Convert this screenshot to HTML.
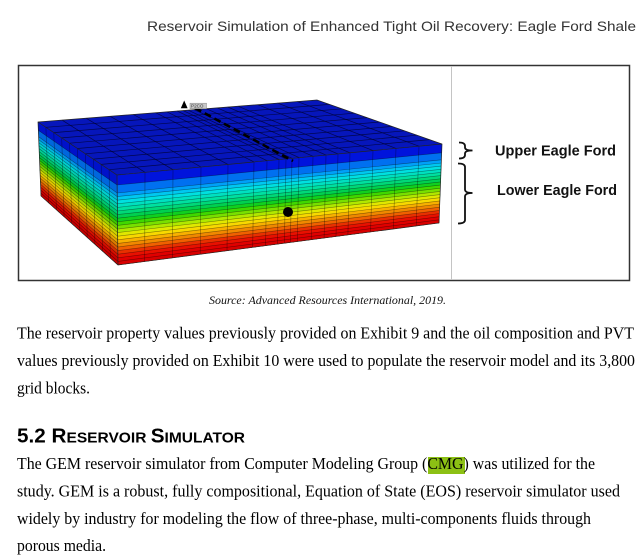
<!DOCTYPE html>
<html><head><meta charset="utf-8"><style>
html,body{margin:0;padding:0;background:#fff;width:644px;height:559px;overflow:hidden}
svg{display:block}
.tm{font-family:"Liberation Serif",serif;font-size:16.5px;fill:#000}
</style></head><body>
<svg width="644" height="559" viewBox="0 0 644 559" xmlns="http://www.w3.org/2000/svg">
<rect width="644" height="559" fill="#fff"/>
<text x="147" y="31" font-family="Liberation Sans, sans-serif" font-size="14" fill="#333" textLength="489" lengthAdjust="spacingAndGlyphs">Reservoir Simulation of Enhanced Tight Oil Recovery: Eagle Ford Shale</text>

<rect x="18.5" y="65.5" width="611" height="215" fill="#fff" stroke="#333" stroke-width="1.5"/>
<line x1="451.5" y1="66" x2="451.5" y2="280" stroke="#c4c4c4" stroke-width="1"/>

<!-- top face -->
<polygon points="38,122 317,100 442,144 117,175" fill="#0616bb"/>
<g stroke="#00002a" stroke-width="0.7" stroke-opacity="0.75" fill="none">
<path d="M45.9,127.3L329.5,104.4M53.8,132.6L342,108.8M61.7,137.9L354.5,113.2M69.6,143.2L367,117.6M77.5,148.5L379.5,122M85.4,153.8L392,126.4M93.3,159.1L404.5,130.8M101.2,164.4L417,135.2M109.1,169.7L429.5,139.6"/>
<path d="M145,172.3L62,120.1M173,169.7L86.1,118.2M201,167L110.1,116.3M228,164.4L133.3,114.5M254,161.9L155.6,112.7M267,160.7L166.8,111.8M279,159.5L177.1,111M286,158.9L183.1,110.6M292,158.3L188.2,110.2M299,157.6L194.2,109.7M313,156.3L206.3,108.7M326,155.1L217.4,107.9M338,153.9L227.7,107M350,152.8L238,106.2M373,150.6L257.8,104.7M396,148.4L277.5,103.1M419,146.2L297.3,101.6"/>
</g>

<!-- front face layers -->
<g>
<polygon points="117,175 442,144 439,223 118,265" fill="#0014dc"/>
<polygon points="117.1,185 441.7,152.8 439,223 118,265" fill="#0070f0"/>
<polygon points="117.2,193 441.4,159.8 439,223 118,265" fill="#00a0f8"/>
<polygon points="117.2,196.6 441.3,163 439,223 118,265" fill="#00c8f0"/>
<polygon points="117.3,200.2 441.2,166.1 439,223 118,265" fill="#00e0e0"/>
<polygon points="117.3,203.8 441,169.3 439,223 118,265" fill="#00e0c0"/>
<polygon points="117.4,207.4 440.9,172.4 439,223 118,265" fill="#00e0a0"/>
<polygon points="117.4,211 440.8,175.6 439,223 118,265" fill="#00d878"/>
<polygon points="117.4,214.6 440.7,178.8 439,223 118,265" fill="#00d050"/>
<polygon points="117.5,218.2 440.6,181.9 439,223 118,265" fill="#10d020"/>
<polygon points="117.5,221.8 440.4,185.1 439,223 118,265" fill="#40d800"/>
<polygon points="117.6,225.4 440.3,188.2 439,223 118,265" fill="#78e000"/>
<polygon points="117.6,229 440.2,191.4 439,223 118,265" fill="#b0e800"/>
<polygon points="117.6,232.6 440.1,194.6 439,223 118,265" fill="#e0e800"/>
<polygon points="117.7,236.2 440,197.7 439,223 118,265" fill="#f8d800"/>
<polygon points="117.7,239.8 439.8,200.9 439,223 118,265" fill="#f8b000"/>
<polygon points="117.8,243.4 439.7,204 439,223 118,265" fill="#f08800"/>
<polygon points="117.8,247 439.6,207.2 439,223 118,265" fill="#f06000"/>
<polygon points="117.8,250.6 439.5,210.4 439,223 118,265" fill="#e83000"/>
<polygon points="117.9,254.2 439.4,213.5 439,223 118,265" fill="#e81000"/>
<polygon points="117.9,257.8 439.2,216.7 439,223 118,265" fill="#e00000"/>
<polygon points="118,261.4 439.1,219.8 439,223 118,265" fill="#d80000"/>
</g>

<!-- left face layers -->
<g>
<polygon points="38,122 117,175 118,265 41,196" fill="#0014dc"/>
<polygon points="38.3,130.2 117.1,185 118,265 41,196" fill="#0070f0"/>
<polygon points="38.6,136.8 117.2,193 118,265 41,196" fill="#00a0f8"/>
<polygon points="38.7,139.8 117.2,196.6 118,265 41,196" fill="#00c8f0"/>
<polygon points="38.8,142.7 117.3,200.2 118,265 41,196" fill="#00e0e0"/>
<polygon points="39,145.7 117.3,203.8 118,265 41,196" fill="#00e0c0"/>
<polygon points="39.1,148.6 117.4,207.4 118,265 41,196" fill="#00e0a0"/>
<polygon points="39.2,151.6 117.4,211 118,265 41,196" fill="#00d878"/>
<polygon points="39.3,154.6 117.4,214.6 118,265 41,196" fill="#00d050"/>
<polygon points="39.4,157.5 117.5,218.2 118,265 41,196" fill="#10d020"/>
<polygon points="39.6,160.5 117.5,221.8 118,265 41,196" fill="#40d800"/>
<polygon points="39.7,163.4 117.6,225.4 118,265 41,196" fill="#78e000"/>
<polygon points="39.8,166.4 117.6,229 118,265 41,196" fill="#b0e800"/>
<polygon points="39.9,169.4 117.6,232.6 118,265 41,196" fill="#e0e800"/>
<polygon points="40,172.3 117.7,236.2 118,265 41,196" fill="#f8d800"/>
<polygon points="40.2,175.3 117.7,239.8 118,265 41,196" fill="#f8b000"/>
<polygon points="40.3,178.2 117.8,243.4 118,265 41,196" fill="#f08800"/>
<polygon points="40.4,181.2 117.8,247 118,265 41,196" fill="#f06000"/>
<polygon points="40.5,184.2 117.8,250.6 118,265 41,196" fill="#e83000"/>
<polygon points="40.6,187.1 117.9,254.2 118,265 41,196" fill="#e81000"/>
<polygon points="40.8,190.1 117.9,257.8 118,265 41,196" fill="#e00000"/>
<polygon points="40.9,193 118,261.4 118,265 41,196" fill="#d80000"/>
<polygon points="38,122 117,175 118,265 41,196" fill="#000" fill-opacity="0.08"/>
</g>

<!-- layer lines -->
<g stroke="#000" stroke-width="0.6" stroke-opacity="0.45" fill="none">
<path d="M38.3,130.2L117.1,185L441.7,152.8M38.6,136.8L117.2,193L441.4,159.8M38.7,139.8L117.2,196.6L441.3,163M38.8,142.7L117.3,200.2L441.2,166.1M39,145.7L117.3,203.8L441,169.3M39.1,148.6L117.4,207.4L440.9,172.4M39.2,151.6L117.4,211L440.8,175.6M39.3,154.6L117.4,214.6L440.7,178.8M39.4,157.5L117.5,218.2L440.6,181.9M39.6,160.5L117.5,221.8L440.4,185.1M39.7,163.4L117.6,225.4L440.3,188.2M39.8,166.4L117.6,229L440.2,191.4M39.9,169.4L117.6,232.6L440.1,194.6M40,172.3L117.7,236.2L440,197.7M40.2,175.3L117.7,239.8L439.8,200.9M40.3,178.2L117.8,243.4L439.7,204M40.4,181.2L117.8,247L439.6,207.2M40.5,184.2L117.8,250.6L439.5,210.4M40.6,187.1L117.9,254.2L439.4,213.5M40.8,190.1L117.9,257.8L439.2,216.7M40.9,193L118,261.4L439.1,219.8"/>
<path d="M145,172.3L144.7,261.5M173,169.7L172.5,257.8M201,167L200.2,254.1M228,164.4L227,250.6M254,161.9L252.7,247.2M267,160.7L265.6,245.5M279,159.5L277.5,243.9M286,158.9L284.4,243M292,158.3L290.4,242.2M299,157.6L297.3,241.3M313,156.3L311.2,239.5M326,155.1L324.1,237.8M338,153.9L336,236.2M350,152.8L347.9,234.6M373,150.6L370.6,231.6M396,148.4L393.4,228.6M419,146.2L416.2,225.6"/>
<path d="M45.9,127.3L48.7,202.9M53.8,132.6L56.4,209.8M61.7,137.9L64.1,216.7M69.6,143.2L71.8,223.6M77.5,148.5L79.5,230.5M85.4,153.8L87.2,237.4M93.3,159.1L94.9,244.3M101.2,164.4L102.6,251.2M109.1,169.7L110.3,258.1"/>
</g>
<g stroke="#222" stroke-width="0.7" fill="none">
<polygon points="38,122 317,100 442,144 439,223 118,265 41,196"/>
<path d="M38,122L117,175L442,144M117,175L118,265"/>
</g>

<!-- well -->
<line x1="195" y1="108" x2="293" y2="161" stroke="#000" stroke-width="2.6" stroke-dasharray="7 4"/>
<polygon points="184.2,100.5 180.8,108.3 187.6,108.3" fill="#000"/>
<rect x="190" y="103.2" width="16.5" height="5.5" fill="#c8c8c8" stroke="#888" stroke-width="0.5"/>
<text x="191" y="107.6" font-family="Liberation Sans, sans-serif" font-size="4.6" fill="#333">P2CO</text>
<circle cx="288" cy="212" r="5" fill="#000"/>

<!-- brackets -->
<g stroke="#111" stroke-width="1.8" fill="none">
<path d="M459,142.5 Q465,142.5 465,146 L465,147.5 Q465,150.5 472.5,150.5 Q465,150.5 465,153.5 L465,155 Q465,158.5 459,158.5"/>
<path d="M458,163.5 Q465,163.5 465,167 L465,189.5 Q465,193 472.5,193 Q465,193 465,196.5 L465,220 Q465,223.5 458,223.5"/>
</g>
<text x="495" y="155.7" font-family="Liberation Sans, sans-serif" font-weight="bold" font-size="14.5" fill="#111" textLength="121" lengthAdjust="spacingAndGlyphs">Upper Eagle Ford</text>
<text x="497" y="195" font-family="Liberation Sans, sans-serif" font-weight="bold" font-size="14.5" fill="#111" textLength="120" lengthAdjust="spacingAndGlyphs">Lower Eagle Ford</text>

<text x="209" y="304" font-family="Liberation Serif, serif" font-style="italic" font-size="11.5" fill="#111" textLength="237" lengthAdjust="spacingAndGlyphs">Source: Advanced Resources International, 2019.</text>

<text class="tm" x="17" y="338.5" textLength="617" lengthAdjust="spacingAndGlyphs">The reservoir property values previously provided on Exhibit 9 and the oil composition and PVT</text>
<text class="tm" x="17" y="366" textLength="618" lengthAdjust="spacingAndGlyphs">values previously provided on Exhibit 10 were used to populate the reservoir model and its 3,800</text>
<text class="tm" x="17" y="393.5" textLength="73" lengthAdjust="spacingAndGlyphs">grid blocks.</text>

<text x="17" y="442.3" font-family="Liberation Sans, sans-serif" font-weight="bold" fill="#000" textLength="228" lengthAdjust="spacingAndGlyphs"><tspan font-size="20">5.2 R</tspan><tspan font-size="15">ESERVOIR </tspan><tspan font-size="20">S</tspan><tspan font-size="15">IMULATOR</tspan></text>

<rect x="428" y="457" width="37" height="17" fill="#8cc014"/>
<text class="tm" x="17" y="469" textLength="578" lengthAdjust="spacingAndGlyphs">The GEM reservoir simulator from Computer Modeling Group (CMG) was utilized for the</text>
<text class="tm" x="17" y="496.5" textLength="603" lengthAdjust="spacingAndGlyphs">study.  GEM is a robust, fully compositional, Equation of State (EOS) reservoir simulator used</text>
<text class="tm" x="17" y="524" textLength="574" lengthAdjust="spacingAndGlyphs">widely by industry for modeling the flow of three-phase, multi-components fluids through</text>
<text class="tm" x="17" y="551" textLength="89" lengthAdjust="spacingAndGlyphs">porous media.</text>
</svg>
</body></html>
